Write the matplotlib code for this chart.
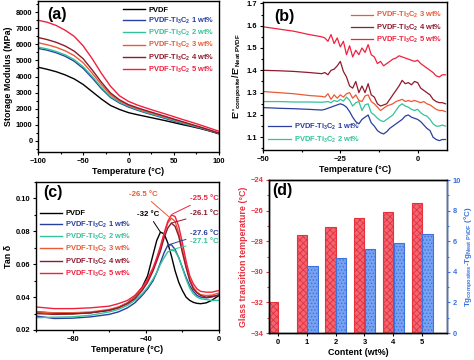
import matplotlib
matplotlib.use("Agg")
import matplotlib.pyplot as plt
from matplotlib.ticker import AutoMinorLocator, MultipleLocator

plt.rcParams['font.family'] = ['Liberation Sans', 'DejaVu Sans']
plt.rcParams['font.weight'] = 'bold'
plt.rcParams['axes.labelweight'] = 'bold'
plt.rcParams['mathtext.fontset'] = 'custom'
plt.rcParams['mathtext.bf'] = 'Liberation Sans:bold'
plt.rcParams['mathtext.rm'] = 'Liberation Sans:bold'
plt.rcParams['mathtext.it'] = 'Liberation Sans:bold'
plt.rcParams['mathtext.default'] = 'bf'
plt.rcParams['hatch.linewidth'] = 0.6

# ---------------- data ----------------
series_names = ["PVDF", "PVDF-Ti$_3$C$_2$ 1 wt%", "PVDF-Ti$_3$C$_2$ 2 wt%",
                "PVDF-Ti$_3$C$_2$ 3 wt%", "PVDF-Ti$_3$C$_2$ 4 wt%", "PVDF-Ti$_3$C$_2$ 5 wt%"]
series_colors = ["#000000", "#2a3fa0", "#33c39a", "#ea5a36", "#8e1b2e", "#f2203f"]

# (a) storage modulus
a_temp = [-100, -90, -80, -70, -60, -50, -40, -30, -20, -10, 0, 10, 20, 30, 40, 50, 60, 70, 80, 90, 100]
a_pvdf = [4580, 4450, 4300, 4100, 3850, 3500, 3050, 2600, 2200, 1950, 1750, 1620, 1500, 1380, 1260, 1130, 1000, 880, 750, 600, 430]
a_1wt = [5750, 5640, 5480, 5260, 4950, 4500, 3900, 3250, 2700, 2350, 2100, 1900, 1720, 1560, 1400, 1230, 1070, 920, 780, 620, 450]
a_2wt = [5830, 5720, 5560, 5350, 5050, 4600, 4000, 3330, 2760, 2400, 2150, 1940, 1760, 1600, 1440, 1270, 1100, 950, 800, 640, 470]
a_3wt = [6100, 5980, 5820, 5600, 5300, 4850, 4200, 3500, 2880, 2480, 2200, 2000, 1820, 1660, 1490, 1320, 1150, 990, 830, 660, 480]
a_4wt = [6430, 6300, 6130, 5900, 5580, 5100, 4400, 3650, 2980, 2550, 2250, 2050, 1870, 1700, 1530, 1350, 1180, 1010, 840, 660, 470]
a_5wt = [7500, 7380, 7180, 6880, 6500, 5900, 5100, 4200, 3400, 2800, 2450, 2220, 2030, 1850, 1680, 1500, 1320, 1150, 970, 780, 590]

# (b) modulus ratio
b_temp = [-50, -45, -40, -35, -31, -30, -29, -28, -27, -26, -25, -24, -23, -22, -21, -20, -19, -18, -17, -16,
          -15, -14, -13, -12, -11, -10, -9, -8, -7, -6, -5, -4, -3, -2, -1, 0, 1, 2, 3, 4, 5, 6, 7, 8, 9]
b_1wt = [1.233, 1.230, 1.228, 1.225, 1.222, 1.225, 1.230, 1.235, 1.240, 1.245, 1.250, 1.245, 1.235, 1.215, 1.190,
         1.170, 1.160, 1.180, 1.190, 1.200, 1.165, 1.150, 1.130, 1.120, 1.115, 1.125, 1.140, 1.150, 1.160, 1.170,
         1.180, 1.195, 1.200, 1.190, 1.185, 1.180, 1.170, 1.155, 1.140, 1.130, 1.100, 1.090, 1.085, 1.090, 1.090]
b_2wt = [1.260, 1.260, 1.258, 1.258, 1.257, 1.258, 1.260, 1.255, 1.265, 1.260, 1.270, 1.262, 1.280, 1.265, 1.240,
         1.255, 1.260, 1.220, 1.245, 1.250, 1.210, 1.200, 1.185, 1.175, 1.170, 1.180, 1.190, 1.200, 1.220, 1.240,
         1.250, 1.240, 1.235, 1.225, 1.220, 1.225, 1.210, 1.200, 1.195, 1.180, 1.160, 1.150, 1.150, 1.155, 1.150]
b_3wt = [1.305, 1.300, 1.295, 1.287, 1.283, 1.280, 1.295, 1.270, 1.290, 1.275, 1.290, 1.280, 1.295, 1.300, 1.275,
         1.290, 1.265, 1.260, 1.285, 1.290, 1.260, 1.250, 1.235, 1.220, 1.230, 1.240, 1.245, 1.250, 1.260, 1.265,
         1.270, 1.260, 1.265, 1.260, 1.265, 1.260, 1.255, 1.260, 1.250, 1.245, 1.235, 1.225, 1.220, 1.220, 1.215]
b_4wt = [1.400, 1.398, 1.395, 1.390, 1.385, 1.390, 1.380, 1.400, 1.405, 1.420, 1.440, 1.395, 1.370, 1.330, 1.320,
         1.350, 1.300, 1.330, 1.300, 1.340, 1.290, 1.280, 1.250, 1.240, 1.245, 1.250, 1.270, 1.290, 1.310, 1.330,
         1.355, 1.340, 1.345, 1.335, 1.350, 1.345, 1.320, 1.310, 1.300, 1.290, 1.270, 1.260, 1.255, 1.255, 1.250]
b_5wt = [1.595, 1.585, 1.575, 1.560, 1.550, 1.545, 1.530, 1.560, 1.520, 1.545, 1.505, 1.530, 1.470, 1.510, 1.460,
         1.490, 1.470, 1.500, 1.480, 1.515, 1.470, 1.460, 1.430, 1.440, 1.420, 1.430, 1.440, 1.450, 1.455, 1.465,
         1.460, 1.455, 1.450, 1.445, 1.440, 1.445, 1.430, 1.420, 1.410, 1.400, 1.390, 1.375, 1.370, 1.380, 1.380]

# (c) tan delta
c_temp = [-100, -90, -80, -70, -60, -55, -50, -46, -42, -39, -36, -34, -32, -30, -28, -26, -24, -22, -20, -18,
          -16, -14, -12, -10, -7, -4, 0]
c_pvdf = [0.0310, 0.0303, 0.0300, 0.0305, 0.0320, 0.0337, 0.0365, 0.0400, 0.0460, 0.0530, 0.0660, 0.0745,
          0.0795, 0.0785, 0.0730, 0.0650, 0.0560, 0.0490, 0.0440, 0.0400, 0.0380, 0.0368, 0.0362, 0.0360,
          0.0365, 0.0380, 0.0410]
c_1wt = [0.0285, 0.0270, 0.0272, 0.0280, 0.0295, 0.0310, 0.0335, 0.0365, 0.0410, 0.0450, 0.0500, 0.0550,
         0.0610, 0.0670, 0.0715, 0.0718, 0.0690, 0.0640, 0.0580, 0.0520, 0.0470, 0.0435, 0.0410, 0.0400,
         0.0395, 0.0400, 0.0415]
c_2wt = [0.0275, 0.0278, 0.0280, 0.0290, 0.0310, 0.0325, 0.0350, 0.0380, 0.0420, 0.0460, 0.0510, 0.0550,
         0.0600, 0.0640, 0.0675, 0.0685, 0.0680, 0.0640, 0.0575, 0.0510, 0.0455, 0.0420, 0.0400, 0.0390,
         0.0385, 0.0380, 0.0380]
c_3wt = [0.0310, 0.0305, 0.0305, 0.0310, 0.0325, 0.0340, 0.0365, 0.0400, 0.0450, 0.0500, 0.0570, 0.0630,
         0.0700, 0.0780, 0.0850, 0.0880, 0.0860, 0.0790, 0.0690, 0.0590, 0.0510, 0.0460, 0.0430, 0.0415,
         0.0410, 0.0412, 0.0425]
c_4wt = [0.0300, 0.0295, 0.0297, 0.0305, 0.0320, 0.0335, 0.0360, 0.0390, 0.0440, 0.0490, 0.0560, 0.0620,
         0.0680, 0.0760, 0.0820, 0.0850, 0.0830, 0.0770, 0.0670, 0.0580, 0.0500, 0.0450, 0.0425, 0.0410,
         0.0400, 0.0405, 0.0410]
c_5wt = [0.0340, 0.0330, 0.0330, 0.0335, 0.0345, 0.0360, 0.0380, 0.0410, 0.0460, 0.0510, 0.0580, 0.0640,
         0.0710, 0.0790, 0.0860, 0.0900, 0.0890, 0.0830, 0.0730, 0.0620, 0.0530, 0.0480, 0.0450, 0.0435,
         0.0430, 0.0430, 0.0440]
c_peak_temp = [-32.0, -27.6, -27.1, -26.5, -26.1, -25.5]
c_peak_val = [0.0795, 0.0718, 0.0685, 0.0880, 0.0850, 0.0905]
c_peak_labels = ["-32 °C", "-27.6 °C", "-27.1 °C", "-26.5 °C", "-26.1 °C", "-25.5 °C"]
c_label_pos = [(-38.5, 0.0905), (-8, 0.0786), (-8, 0.0740), (-41.5, 0.1025), (-8, 0.0906), (-8, 0.1000)]

# (d) Tg bars
d_content = [0, 1, 2, 3, 4, 5]
d_tg = [-32.0, -27.6, -27.1, -26.5, -26.1, -25.5]
d_diff = [0.0, 4.4, 4.9, 5.5, 5.9, 6.5]

# ---------------- figure ----------------
W, H = 474, 360
fig = plt.figure(figsize=(W / 100, H / 100), dpi=100)

def px_axes(l, t, r, b):
    return fig.add_axes([l / W, 1 - b / H, (r - l) / W, (b - t) / H])

TICK_FS = 5.4
LAB_FS = 6.4
LEG_FS = 5.4

def style(ax):
    ax.tick_params(which='both', direction='out', labelsize=TICK_FS, width=0.8, pad=1.5)
    ax.tick_params(which='major', length=2.5)
    ax.tick_params(which='minor', length=1.5)
    for s in ax.spines.values():
        s.set_linewidth(1.0)
    for lab in ax.get_xticklabels() + ax.get_yticklabels():
        lab.set_fontweight('bold')

def color_legend(leg):
    for line, txt in zip(leg.get_lines(), leg.get_texts()):
        txt.set_color(line.get_color())

# (a)
ax = px_axes(38, 1, 219, 152)
a_all = [a_pvdf, a_1wt, a_2wt, a_3wt, a_4wt, a_5wt]
for ys, nm, c in zip(a_all, series_names, series_colors):
    ax.plot(a_temp, ys, color=c, lw=1.0, label=nm)
ax.set_xlim(-100, 100)
ax.set_ylim(-700, 8700)
ax.xaxis.set_major_locator(MultipleLocator(50))
ax.yaxis.set_major_locator(MultipleLocator(1000))
ax.xaxis.set_minor_locator(AutoMinorLocator(2))
ax.yaxis.set_minor_locator(AutoMinorLocator(2))
ax.set_xlabel("Temperature (°C)", fontsize=LAB_FS, labelpad=2)
ax.set_ylabel("Storage Modulus (MPa)", fontsize=LAB_FS, labelpad=2)
ax.text(0.05, 0.91, "(a)", transform=ax.transAxes, fontsize=11.5, fontweight='bold', va='center')
leg = ax.legend(loc='upper right', fontsize=LEG_FS, frameon=False, handlelength=3.0, labelspacing=0.28,
                borderaxespad=0.0, handletextpad=0.4, bbox_to_anchor=(0.99, 0.985))
color_legend(leg)
style(ax)

# (b)
ax = px_axes(263, 2, 447, 150)
b_all = [b_1wt, b_2wt, b_3wt, b_4wt, b_5wt]
lines_b = []
for ys, nm, c in zip(b_all, series_names[1:], series_colors[1:]):
    l, = ax.plot(b_temp, ys, color=c, lw=0.9, label=nm)
    lines_b.append(l)
ax.set_xlim(-50, 9.5)
ax.set_ylim(1.043, 1.706)
ax.xaxis.set_major_locator(MultipleLocator(25))
ax.yaxis.set_major_locator(MultipleLocator(0.1))
ax.xaxis.set_minor_locator(AutoMinorLocator(2))
ax.yaxis.set_minor_locator(AutoMinorLocator(2))
ax.set_xlabel("Temperature (°C)", fontsize=LAB_FS, labelpad=2)
ax.set_ylabel("E''$_{composite}$/E'$_{Neat\\ PVDF}$", fontsize=LAB_FS, labelpad=2)
ax.text(0.06, 0.9, "(b)", transform=ax.transAxes, fontsize=11.5, fontweight='bold', va='center')
leg1 = ax.legend(handles=lines_b[2:], loc='upper right', fontsize=LEG_FS, frameon=False, handlelength=3.0,
                 labelspacing=0.3, borderaxespad=0.0, handletextpad=0.4, bbox_to_anchor=(0.99, 0.965))
color_legend(leg1)
ax.add_artist(leg1)
leg2 = ax.legend(handles=lines_b[:2], loc='lower left', fontsize=LEG_FS, frameon=False, handlelength=3.0,
                 labelspacing=0.3, borderaxespad=0.3, handletextpad=0.4)
color_legend(leg2)
style(ax)

# (c)
ax = px_axes(36, 182, 219, 330)
c_all = [c_pvdf, c_1wt, c_2wt, c_3wt, c_4wt, c_5wt]
for ys, nm, c in zip(c_all, series_names, series_colors):
    ax.plot(c_temp, ys, color=c, lw=1.0, label=nm)
for xp, yp, lab, pos, c in zip(c_peak_temp, c_peak_val, c_peak_labels, c_label_pos, series_colors):
    ax.annotate(lab, xy=(xp, yp), xytext=pos, fontsize=5.6, fontweight='bold', color=c,
                ha='center', va='center',
                arrowprops=dict(arrowstyle='-', color=c, lw=0.7, shrinkA=1, shrinkB=0))
ax.set_xlim(-100, 0)
ax.set_ylim(0.02, 0.11)
ax.set_xticks([-80, -40, 0])
ax.yaxis.set_major_locator(MultipleLocator(0.02))
ax.xaxis.set_minor_locator(MultipleLocator(20))
ax.yaxis.set_minor_locator(AutoMinorLocator(2))
ax.set_xlabel("Temperature (°C)", fontsize=LAB_FS, labelpad=2)
ax.set_ylabel("Tan δ", fontsize=LAB_FS, labelpad=2)
ax.text(0.04, 0.93, "(c)", transform=ax.transAxes, fontsize=11.5, fontweight='bold', va='center')
leg = ax.legend(loc='upper left', fontsize=LEG_FS, frameon=False, handlelength=3.0, labelspacing=0.28,
                borderaxespad=0.0, handletextpad=0.4, bbox_to_anchor=(0.005, 0.83))
color_legend(leg)
style(ax)

# (d)
red = "#e8313f"
blue = "#3b73e0"
ax = px_axes(269, 180, 447, 333)
ax2 = ax.twinx()
width = 0.36
xr = [x - 0.18 for x in d_content]
xb = [x + 0.19 for x in d_content]
ax.bar(xr, [v - (-34) for v in d_tg], bottom=-34, width=width, facecolor="#ef6570", edgecolor=red,
       hatch='xxxxx', lw=0.8, zorder=2)
ax2.bar(xb, d_diff, width=width, facecolor="#78a2f0", edgecolor=blue, hatch='.....', lw=0.8, zorder=2)
ax.set_xlim(-0.32, 5.87)
ax.set_ylim(-34, -24)
ax2.set_ylim(0, 10)
ax.set_xticks(d_content)
ax.yaxis.set_major_locator(MultipleLocator(2))
ax.yaxis.set_minor_locator(AutoMinorLocator(2))
ax2.yaxis.set_major_locator(MultipleLocator(2))
ax2.yaxis.set_minor_locator(AutoMinorLocator(2))
ax.set_xlabel("Content (wt%)", fontsize=LAB_FS, labelpad=2)
ax.set_ylabel("Glass transition temperature (°C)", fontsize=LAB_FS, labelpad=2, color=red)
ax2.set_ylabel("Tg$_{composites}$-Tg$_{Neat\\ PVDF}$ (°C)", fontsize=5.8, labelpad=1, color=blue)
ax.text(0.02, 0.93, "(d)", transform=ax.transAxes, fontsize=11.5, fontweight='bold', va='center')
style(ax)
style(ax2)
ax.tick_params(axis='y', which='both', colors=red)
ax.tick_params(axis='x', which='minor', bottom=False)
ax2.tick_params(axis='y', which='both', colors=blue)
ax2.spines['right'].set_color(blue)

fig.savefig("out.png", dpi=100)
